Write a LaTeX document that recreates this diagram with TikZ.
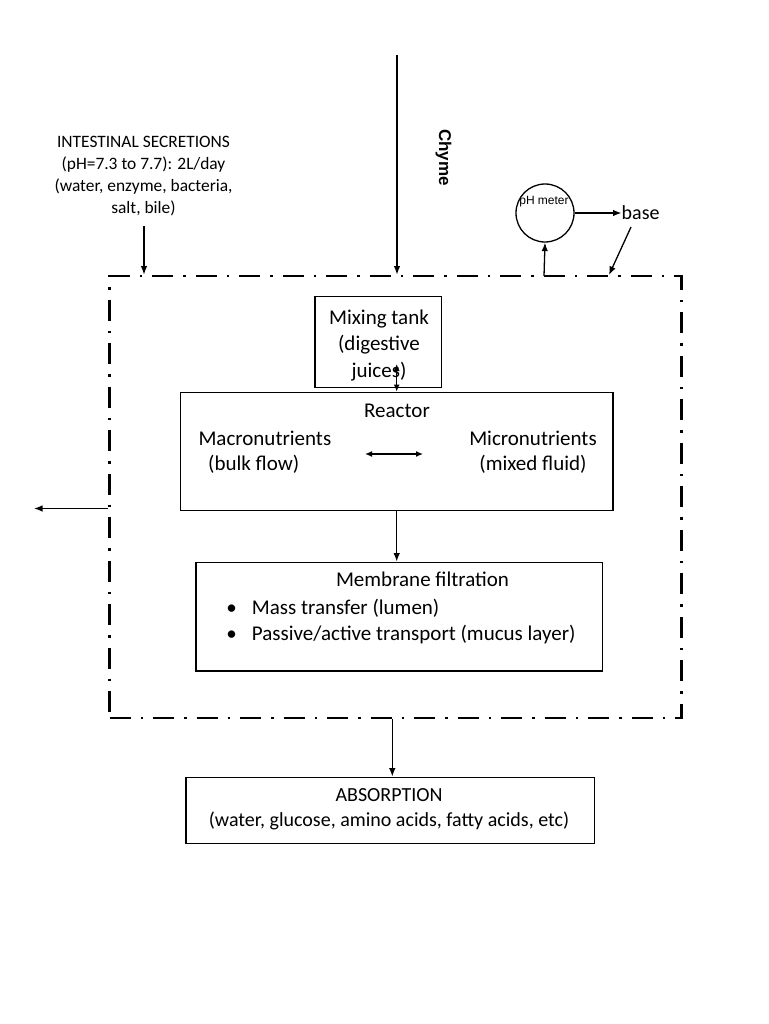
\documentclass[tikz,border=0pt]{standalone}
\usepackage{fontspec}
\setmainfont{Carlito}
\newfontfamily\arialf{Liberation Sans}
\usetikzlibrary{arrows.meta}
\begin{document}
\begin{tikzpicture}[x=1pt,y=-1pt,
  box/.style={draw, line width=1.3pt, inner sep=0pt},
  txt/.style={font=\fontsize{21}{26.5}\selectfont, align=center, inner sep=0pt, anchor=base},
  smalltxt/.style={font=\fontsize{17.4}{22}\selectfont, align=center, inner sep=0pt},
  arr/.style={-{Latex[length=8.5pt,width=6.5pt]}, line width=1.3pt},
  darr/.style={{Latex[length=7pt,width=6pt]}-{Latex[length=7pt,width=6pt]}, line width=1.3pt},
  sysline/.style={draw, line width=2.8pt, dash pattern=on 21pt off 10pt on 2.5pt off 10pt, inner sep=0pt}
]
\useasboundingbox (0,0) rectangle (768,1024);

% system boundary
\node[sysline, minimum width=572pt, minimum height=442pt] (sys) at (395.5,497) {};

% intestinal secretions (anchor base = baseline of the last line)
\node[smalltxt, anchor=base] (sec) at (143.5,214)
  {INTESTINAL SECRETIONS\\(pH=7.3 to 7.7): 2L/day\\(water, enzyme, bacteria,\\salt, bile)};
\coordinate (secs) at (144,226);
\draw[arr] (secs) -- (secs |- sys.north);

% chyme
\coordinate (chs) at (397,55);
\draw[arr] (chs) -- (chs |- sys.north);
\node[font=\arialf\bfseries\fontsize{17}{20}\selectfont, rotate=-90, inner sep=0pt] (chy) at (443.5,157.5) {Chyme};

% pH meter
\node[draw, circle, line width=1.3pt, minimum size=58pt, inner sep=0pt] (ph) at (545,213) {};
\node[font=\arialf\fontsize{12}{14}\selectfont, inner sep=0pt, anchor=base] (phl) at (544,204.3) {pH meter};
\coordinate (phs) at (544,276);
\draw[arr] (phs) -- (ph.south);
\node[font=\fontsize{20}{24}\selectfont, inner sep=0pt, anchor=base west] (base) at (621.5,219.3) {base};
\draw[arr] (ph.east) -- (base.west |- ph.east);
\coordinate (bs) at (631,227);
\coordinate (be) at (609,275);
\draw[arr] (bs) -- (be);

% mixing tank
\node[box, minimum width=126.7pt, minimum height=91pt] (mix) at (378.3,342.2) {};
\node[txt] (mixt) at (379,377.3) {Mixing tank\\(digestive\\juices)};

% reactor
\node[box, minimum width=432.5pt, minimum height=118pt] (reac) at (396.7,451.3) {};
\node[txt] (reat) at (397,417.3) {Reactor};
\node[txt, anchor=base west] (mac1) at (198.3,445) {Macronutrients};
\node[txt, anchor=base west] (mac2) at (208,470.7) {(bulk flow)};
\node[txt] (mic1) at (533,445) {Micronutrients};
\node[txt] (mic2) at (533,470.7) {(mixed fluid)};
\coordinate (ra) at (365,454);
\coordinate (rb) at (423,454);
\draw[darr] (ra) -- (rb);
\coordinate (ma) at (396.7,364);
\draw[darr] (ma) -- (ma |- reac.north);

% membrane
\node[box, minimum width=406.7pt, minimum height=108.7pt] (mem) at (399.3,616.6) {};
\draw[arr] (reac.south -| ma) -- (mem.north -| ma);
\node[txt] (memt) at (422.5,586.7) {Membrane filtration};
\node[txt] (b1) at (231.7,614) {•};
\node[txt, anchor=base west] (m1) at (251.7,614) {Mass transfer (lumen)};
\node[txt] (b2) at (231.7,640.7) {•};
\node[txt, anchor=base west] (m2) at (251.7,640.7) {Passive/active transport (mucus layer)};

% left outlet
\coordinate (lo) at (34,508.5);
\draw[arr] (sys.west |- lo) -- (lo);

% absorption
\node[box, minimum width=408.3pt, minimum height=66pt] (abs) at (390.2,810.3) {};
\node[txt, font=\fontsize{20}{24.5}\selectfont] (abst) at (389,826) {ABSORPTION\\(water, glucose, amino acids, fatty acids, etc)};
\coordinate (ao) at (392.3,718);
\draw[arr] (sys.south -| ao) -- (abs.north -| ao);
\end{tikzpicture}
\end{document}
